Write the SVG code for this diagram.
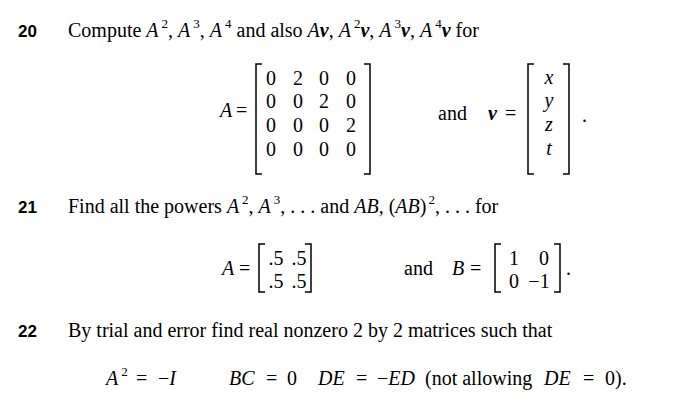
<svg xmlns="http://www.w3.org/2000/svg" width="691" height="401" viewBox="0 0 691 401">
<style>
text{font-family:"Liberation Serif",serif;font-size:20px;fill:#000}
.n{font-family:"Liberation Sans",sans-serif;font-weight:bold;font-size:17px}
.i{font-style:italic}
.b{font-weight:bold;font-style:italic}
.m{text-anchor:middle}
.s{font-size:13px}
.k{fill:none;stroke:#000;stroke-width:1.5}
</style>
<rect width="691" height="401" fill="#fff"/>
<g id="p20">
<text class="n" x="18" y="37">20</text>
<text x="68" y="37">Compute <tspan class="i">A</tspan><tspan class="s" dx="3" dy="-9">2</tspan><tspan dy="9">, </tspan><tspan class="i">A</tspan><tspan class="s" dx="3" dy="-9">3</tspan><tspan dy="9">, </tspan><tspan class="i">A</tspan><tspan class="s" dx="3" dy="-9">4</tspan><tspan dy="9"> and also </tspan><tspan class="i">A</tspan><tspan class="b">v</tspan>, <tspan class="i">A</tspan><tspan class="s" dx="3" dy="-9">2</tspan><tspan class="b" dy="9">v</tspan>, <tspan class="i">A</tspan><tspan class="s" dx="3" dy="-9">3</tspan><tspan class="b" dy="9">v</tspan>, <tspan class="i">A</tspan><tspan class="s" dx="3" dy="-9">4</tspan><tspan class="b" dy="9">v</tspan> for</text>
<text class="i" x="220" y="117">A</text><text x="236" y="117">=</text>
<path class="k" d="M262,64H256V174H262M364,64H370V174H364"/>
<g class="m">
<text x="271" y="85">0</text><text x="298" y="85">2</text><text x="324" y="85">0</text><text x="351" y="85">0</text>
<text x="271" y="108">0</text><text x="298" y="108">0</text><text x="324" y="108">2</text><text x="351" y="108">0</text>
<text x="271" y="132">0</text><text x="298" y="132">0</text><text x="324" y="132">0</text><text x="351" y="132">2</text>
<text x="271" y="156">0</text><text x="298" y="156">0</text><text x="324" y="156">0</text><text x="351" y="156">0</text>
</g>
<text x="438" y="120">and</text>
<text class="b" x="488" y="120">v</text><text x="505" y="120">=</text>
<path class="k" d="M534,64H528V174H534M563,64H569V174H563"/>
<g class="m i" style="font-size:16px">
<text x="549" y="84">x</text><text x="549" y="107">y</text><text x="549" y="131">z</text><text x="549" y="155">t</text>
</g>
<text x="582" y="122">.</text>
</g>
<g id="p21">
<text class="n" x="18" y="213">21</text>
<text x="68" y="213">Find all the powers <tspan class="i">A</tspan><tspan class="s" dx="3" dy="-9">2</tspan><tspan dy="9">, </tspan><tspan class="i">A</tspan><tspan class="s" dx="3" dy="-9">3</tspan><tspan dy="9">, . . . and </tspan><tspan class="i">AB</tspan>, (<tspan class="i">AB</tspan>)<tspan class="s" dx="2" dy="-9">2</tspan><tspan dy="9">, . . . for</tspan></text>
<text class="i" x="222" y="275">A</text><text x="239" y="275">=</text>
<path class="k" d="M265,244H259V292H265M305,244H311V292H305"/>
<g class="m" style="font-size:18px">
<text x="276" y="265">.5</text><text x="299" y="265">.5</text>
<text x="276" y="288">.5</text><text x="299" y="288">.5</text>
</g>
<text x="404" y="275">and</text>
<text class="i" x="452" y="275">B</text><text x="470" y="275">=</text>
<path class="k" d="M501,244H495V292H501M554,244H560V292H554"/>
<g class="m" style="font-size:18px">
<text x="514" y="265">1</text><text x="544" y="265">0</text>
<text x="514" y="288">0</text><text x="539" y="288">−1</text>
</g>
<text x="566" y="275">.</text>
</g>
<g id="p22">
<text class="n" x="18" y="337">22</text>
<text x="68" y="337">By trial and error find real nonzero 2 by 2 matrices such that</text>
<text x="106" y="385"><tspan class="i">A</tspan><tspan class="s" dx="3" dy="-9">2</tspan></text>
<text x="136" y="385">=</text><text x="158" y="385">−<tspan class="i">I</tspan></text>
<text class="i" x="229" y="385">BC</text><text x="266" y="385">=</text><text x="287" y="385">0</text>
<text class="i" x="318" y="385">DE</text><text x="356" y="385">=</text><text x="377" y="385">−<tspan class="i">ED</tspan></text>
<text x="425" y="385">(not allowing</text><text class="i" x="544" y="385">DE</text><text x="583" y="385">=</text><text x="605" y="385">0).</text>
</g>
</svg>
